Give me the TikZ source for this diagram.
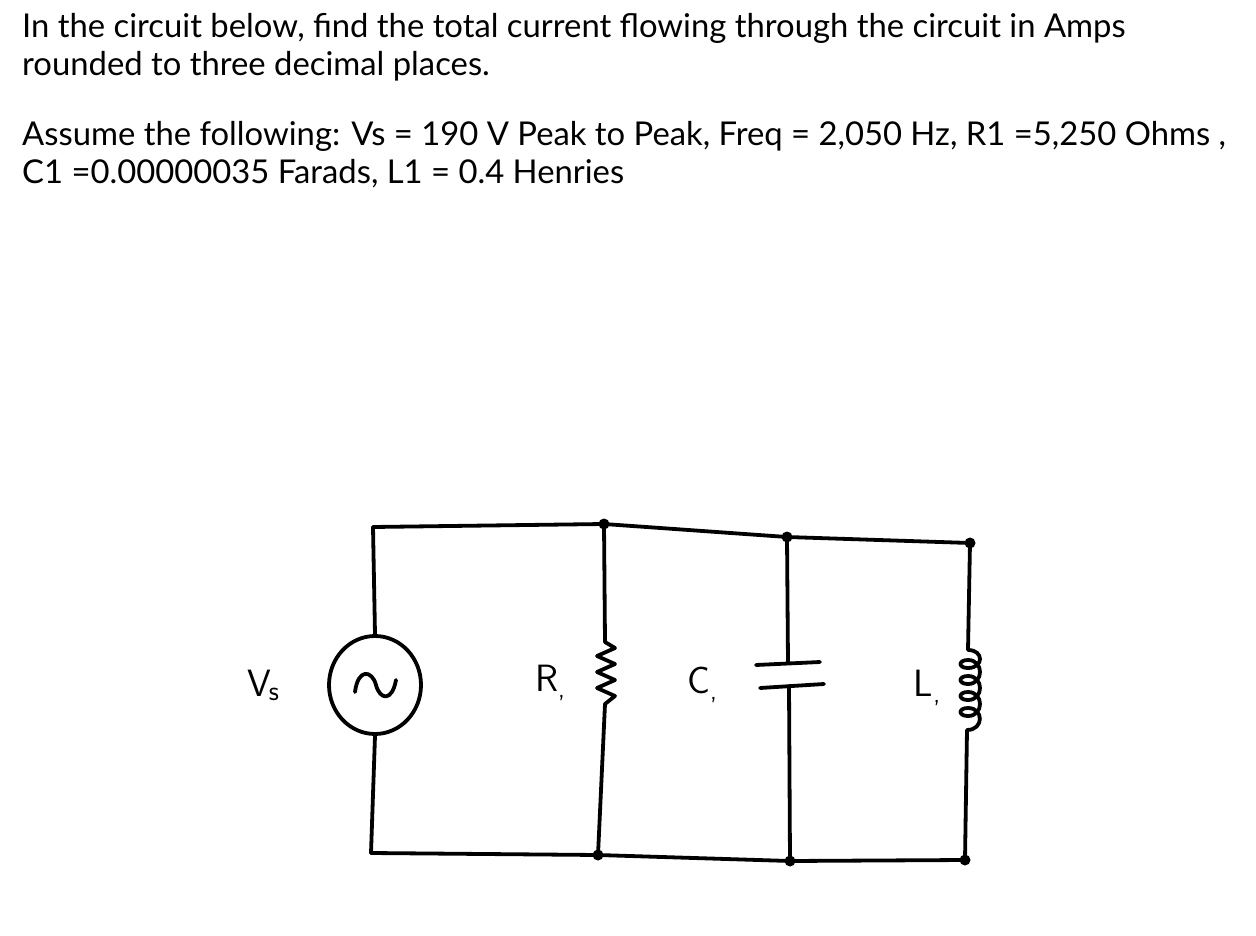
\documentclass[tikz,border=0pt]{standalone}
\usepackage{fontspec}
\setmainfont{Lato}
\usetikzlibrary{shapes.geometric}
\begin{document}
\begin{tikzpicture}[x=1pt,y=-1pt,
  w/.style={line width=3.8pt,line cap=round,line join=round},
  dot/.style={circle,fill=black,inner sep=0pt,minimum size=11pt},
  lbl/.style={font=\sffamily\fontsize{38}{38}\selectfont},
  txt/.style={anchor=west,inner sep=0pt,font=\fontsize{32.8}{32.8}\selectfont}]
\useasboundingbox (0,0) rectangle (1256,936);
\node[txt] (t1) at (22,28) {In the circuit below, find the total current flowing through the circuit in Amps};
\node[txt] (t2) at (22,66) {rounded to three decimal places.};
\node[txt] (t3) at (22,136) {Assume the following: Vs = 190 V Peak to Peak, Freq = 2,050 Hz, R1 =5,250 Ohms ,};
\node[txt] (t4) at (22,174) {C1 =0.00000035 Farads, L1 = 0.4 Henries};
% nodes
\coordinate (tl) at (373,527);
\coordinate (bl) at (371,853);
\node[dot] (rt) at (604,524) {};
\node[dot] (ct) at (787,537) {};
\node[dot] (lt) at (970,543) {};
\node[dot] (rb) at (598,855) {};
\node[dot] (cb) at (790,861) {};
\node[dot] (lb) at (965,860) {};
% wires
\draw[w] (tl) -- (rt.center) -- (ct.center) -- (lt.center);
\draw[w] (bl) -- (rb.center) -- (cb.center) -- (lb.center);
% source
\node[draw,w,ellipse,minimum width=92pt,minimum height=98pt,inner sep=0pt] (vs) at (375,685) {};
\draw[w] (tl) -- (vs.north);
\draw[w] (vs.south) -- (bl);
\draw[w] (355,692) .. controls (358,668) and (372,670) .. (376,685) .. controls (380,700) and (392,702) .. (396,680);
\node[lbl] (lvs) at (263,685) {V\kern-2pt\raisebox{-4pt}{\fontsize{28}{28}\selectfont s}};
% resistor
\draw[w] (rt.center) -- (605,642) -- (615,648) -- (597,656) -- (615,664) -- (597,672) -- (615,680) -- (597,688) -- (615,696) -- (605,704) -- (rb.center);
\node[lbl] (lr) at (550,683) {R\raisebox{-6pt}{\fontsize{26}{26}\selectfont ,}};
% capacitor
\draw[w] (ct.center) -- (788,663);
\draw[w] (756,665) -- (820,662);
\draw[w] (760,688) -- (824,684);
\draw[w] (789,686) -- (cb.center);
\node[lbl] (lc) at (702,685) {C\raisebox{-6pt}{\fontsize{26}{26}\selectfont ,}};
% inductor
\draw[w] (lt.center) -- (968,650)
  .. controls (984,650) and (984,668) .. (968,668) .. controls (958,668) and (958,660) .. (968,660)
  .. controls (984,660) and (984,684) .. (968,684) .. controls (958,684) and (958,676) .. (968,676)
  .. controls (984,676) and (984,700) .. (968,700) .. controls (958,700) and (958,692) .. (968,692)
  .. controls (984,692) and (984,716) .. (968,716) .. controls (958,716) and (958,708) .. (968,708)
  .. controls (984,708) and (984,730) .. (967,730) -- (lb.center);
\node[lbl] (ll) at (927,688) {L\raisebox{-6pt}{\fontsize{26}{26}\selectfont ,}};
\end{tikzpicture}
\end{document}
